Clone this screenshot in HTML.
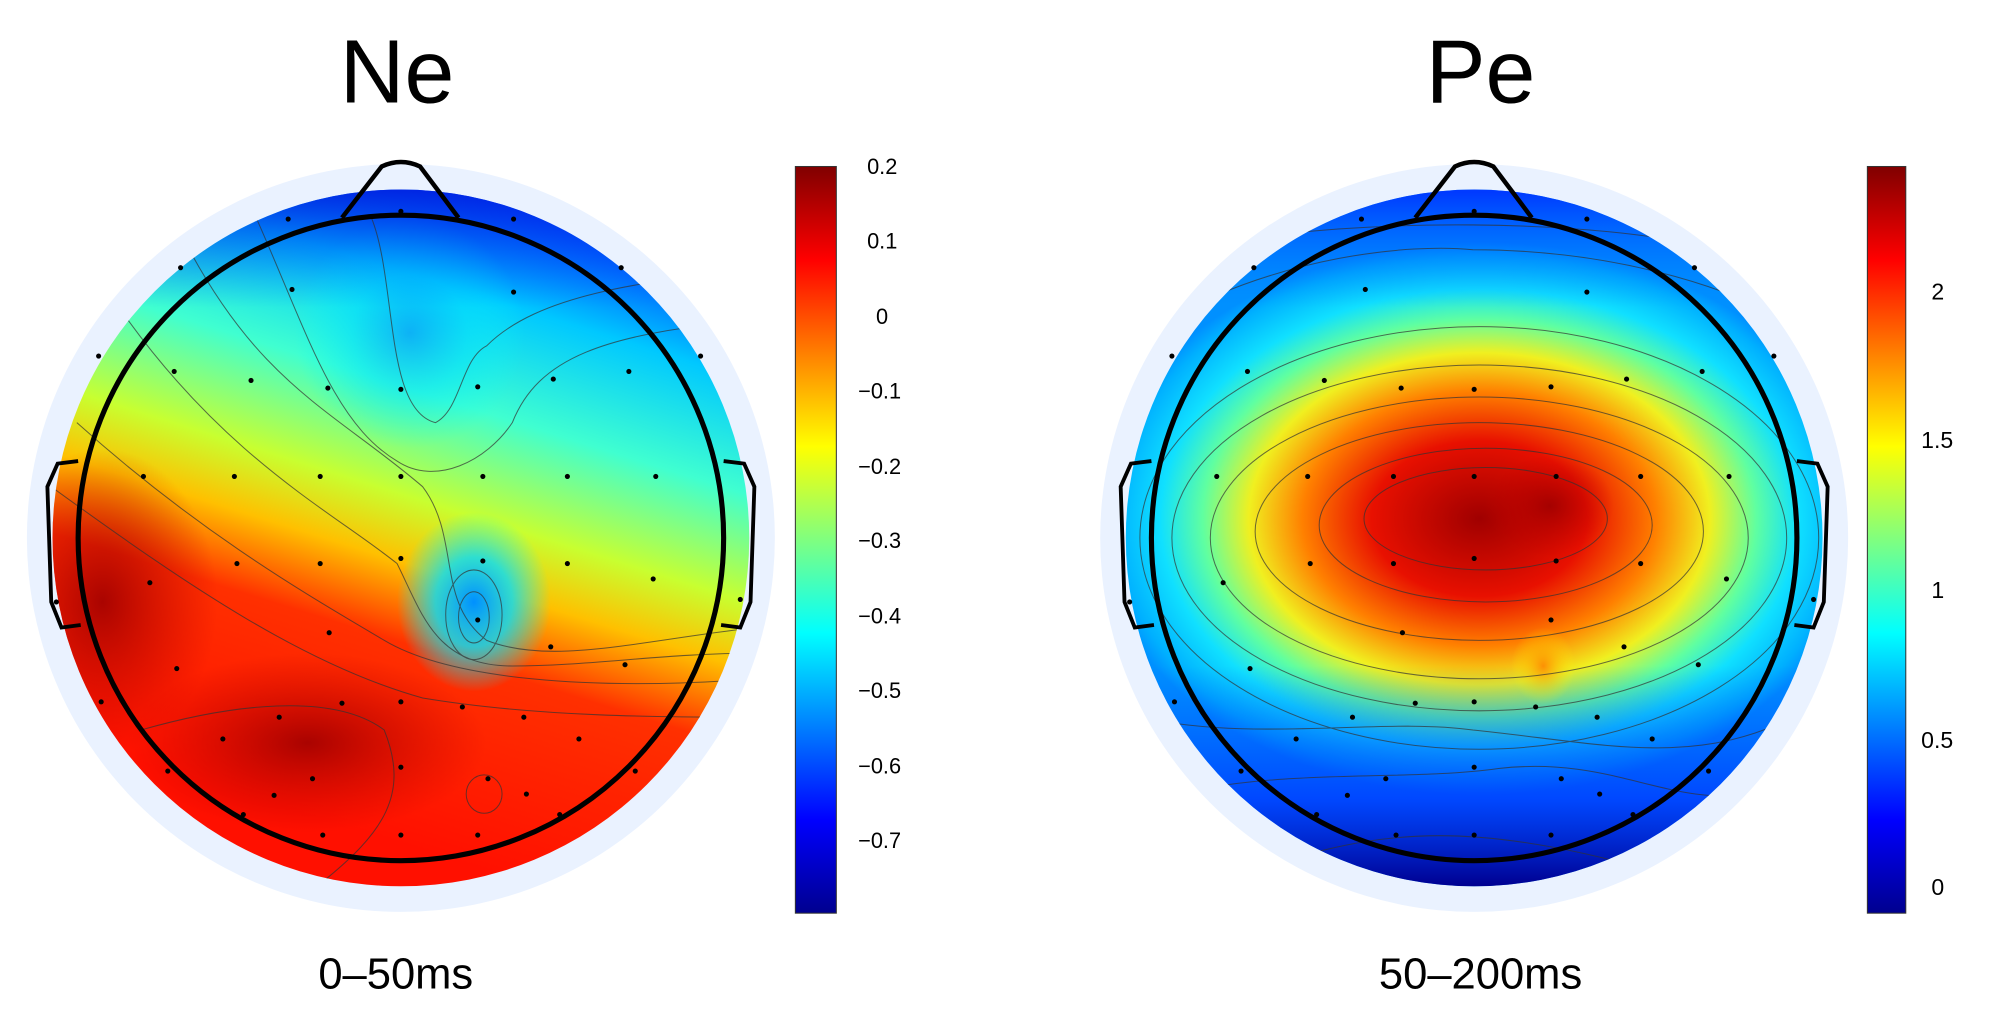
<!DOCTYPE html>
<html><head><meta charset="utf-8"><style>
html,body{margin:0;padding:0;background:#fff;}
svg{display:block;}
text{font-family:"Liberation Sans",sans-serif;}
</style></head><body>
<svg width="1998" height="1031" viewBox="0 0 1560 805" preserveAspectRatio="none" xmlns="http://www.w3.org/2000/svg">
<defs>
<linearGradient id="jetv" x1="0" y1="1" x2="0" y2="0">
<stop offset="0" stop-color="#00008f"/><stop offset="0.125" stop-color="#0000ff"/><stop offset="0.375" stop-color="#00ffff"/><stop offset="0.625" stop-color="#ffff00"/><stop offset="0.875" stop-color="#ff0000"/><stop offset="1" stop-color="#800000"/>
</linearGradient>
<linearGradient id="lg" gradientUnits="userSpaceOnUse" x1="400" y1="160" x2="250" y2="640">
<stop offset="0" stop-color="#0040ff"/><stop offset="0.15" stop-color="#00c8ff"/><stop offset="0.32" stop-color="#40ffd0"/><stop offset="0.48" stop-color="#c8ff30"/><stop offset="0.58" stop-color="#ffc000"/><stop offset="0.7" stop-color="#ff3000"/><stop offset="1" stop-color="#ff1000"/>
</linearGradient>
<linearGradient id="ltop" gradientUnits="userSpaceOnUse" x1="0" y1="148" x2="0" y2="240">
<stop offset="0" stop-color="#0020e0" stop-opacity="0.9"/><stop offset="1" stop-color="#0060ff" stop-opacity="0"/>
</linearGradient>
<radialGradient id="b1" cx="0.5" cy="0.5" r="0.5"><stop offset="0" stop-color="#a00000" stop-opacity="0.9"/><stop offset="1" stop-color="#c00000" stop-opacity="0"/></radialGradient>
<radialGradient id="b2" cx="0.5" cy="0.5" r="0.5"><stop offset="0" stop-color="#0090ff"/><stop offset="0.5" stop-color="#00e0ff" stop-opacity="0.8"/><stop offset="1" stop-color="#00ffff" stop-opacity="0"/></radialGradient>
<radialGradient id="b3" cx="0.5" cy="0.5" r="0.5"><stop offset="0" stop-color="#ff8000" stop-opacity="0.8"/><stop offset="1" stop-color="#ffff00" stop-opacity="0"/></radialGradient>
<radialGradient id="rg" gradientUnits="userSpaceOnUse" cx="1155" cy="405" r="300" gradientTransform="translate(1155 405) scale(1 0.72) translate(-1155 -405)">
<stop offset="0" stop-color="#a00000"/><stop offset="0.28" stop-color="#e81000"/><stop offset="0.46" stop-color="#ff8000"/><stop offset="0.6" stop-color="#f0f020"/><stop offset="0.72" stop-color="#60ffa0"/><stop offset="0.83" stop-color="#10e0ff"/><stop offset="0.95" stop-color="#00b0ff"/><stop offset="1" stop-color="#0090ff"/>
</radialGradient>
<linearGradient id="rbot" gradientUnits="userSpaceOnUse" x1="0" y1="520" x2="0" y2="692">
<stop offset="0" stop-color="#0040ff" stop-opacity="0"/><stop offset="0.6" stop-color="#0030ff" stop-opacity="0.75"/><stop offset="1" stop-color="#000090" stop-opacity="1"/>
</linearGradient>
<linearGradient id="rtop" gradientUnits="userSpaceOnUse" x1="0" y1="150" x2="0" y2="240">
<stop offset="0" stop-color="#0030ff" stop-opacity="0.9"/><stop offset="1" stop-color="#0080ff" stop-opacity="0"/>
</linearGradient>
<clipPath id="cl"><circle cx="313" cy="420" r="272"/></clipPath>
<clipPath id="cr"><circle cx="1151" cy="420" r="272"/></clipPath>
</defs>

<!-- Left -->
<text x="310" y="80" font-size="70" text-anchor="middle">Ne</text>
<circle cx="313" cy="420" r="292" fill="#eaf2ff"/>
<g clip-path="url(#cl)">
<rect x="40" y="148" width="546" height="546" fill="url(#lg)"/>
<ellipse cx="80" cy="470" rx="90" ry="120" fill="url(#b1)"/>
<ellipse cx="240" cy="580" rx="140" ry="70" fill="url(#b1)"/>
<ellipse cx="370" cy="470" rx="60" ry="70" fill="url(#b2)"/>
<ellipse cx="320" cy="260" rx="90" ry="90" fill="url(#b2)" opacity="0.6"/>
<rect x="40" y="148" width="546" height="100" fill="url(#ltop)"/>
<g fill="none" stroke="#333" stroke-width="0.8" opacity="0.7">
<path d="M140 180 C200 300 260 320 330 380 C360 420 340 470 380 500 C430 520 500 500 590 490"/>
<path d="M100 250 C180 360 260 400 310 440 C330 480 340 520 400 520 C460 520 520 510 590 510"/>
<path d="M60 330 C160 420 250 470 300 500 C350 530 460 540 590 530"/>
<path d="M40 380 C150 460 240 520 330 545 C420 560 520 560 590 560"/>
<path d="M200 170 C240 260 260 330 310 360 C340 380 380 360 400 330 C420 280 470 260 590 250"/>
<path d="M290 170 C310 220 300 320 340 330 C360 320 360 280 380 270 C420 230 500 220 590 210"/>
<ellipse cx="370" cy="480" rx="22" ry="35"/><ellipse cx="370" cy="482" rx="12" ry="20"/>
<ellipse cx="378" cy="620" rx="14" ry="15"/>
<path d="M110 570 C180 550 260 540 300 570 C320 620 300 650 250 690"/>
</g>
</g>
<circle cx="313" cy="420" r="252" fill="none" stroke="#000" stroke-width="4"/>
<path d="M267 170 L298 130 Q313 123 328 130 L358 170" fill="none" stroke="#000" stroke-width="3.5"/>
<path d="M61 360 L45 362 L37 380 L40 470 L48 490 L63 488" fill="none" stroke="#000" stroke-width="3"/>
<path d="M565 360 L581 362 L589 380 L586 470 L578 490 L563 488" fill="none" stroke="#000" stroke-width="3"/>
<g fill="#000">
<circle cx="313" cy="165" r="2"/><circle cx="225" cy="171" r="2"/><circle cx="401" cy="171" r="2"/><circle cx="141" cy="209" r="2"/><circle cx="485" cy="209" r="2"/><circle cx="228" cy="226" r="2"/><circle cx="401" cy="228" r="2"/><circle cx="77" cy="278" r="2"/><circle cx="547" cy="278" r="2"/><circle cx="136" cy="290" r="2"/><circle cx="196" cy="297" r="2"/><circle cx="256" cy="303" r="2"/><circle cx="313" cy="304" r="2"/><circle cx="373" cy="302" r="2"/><circle cx="432" cy="296" r="2"/><circle cx="491" cy="290" r="2"/><circle cx="112" cy="372" r="2"/><circle cx="183" cy="372" r="2"/><circle cx="250" cy="372" r="2"/><circle cx="313" cy="372" r="2"/><circle cx="377" cy="372" r="2"/><circle cx="443" cy="372" r="2"/><circle cx="512" cy="372" r="2"/><circle cx="185" cy="440" r="2"/><circle cx="250" cy="440" r="2"/><circle cx="313" cy="436" r="2"/><circle cx="377" cy="438" r="2"/><circle cx="443" cy="440" r="2"/><circle cx="510" cy="452" r="2"/><circle cx="117" cy="455" r="2"/><circle cx="44" cy="470" r="2"/><circle cx="578" cy="468" r="2"/><circle cx="373" cy="484" r="2"/><circle cx="257" cy="494" r="2"/><circle cx="430" cy="505" r="2"/><circle cx="138" cy="522" r="2"/><circle cx="488" cy="519" r="2"/><circle cx="79" cy="548" r="2"/><circle cx="313" cy="548" r="2"/><circle cx="267" cy="549" r="2"/><circle cx="361" cy="552" r="2"/><circle cx="409" cy="560" r="2"/><circle cx="218" cy="560" r="2"/><circle cx="174" cy="577" r="2"/><circle cx="452" cy="577" r="2"/><circle cx="313" cy="599" r="2"/><circle cx="131" cy="602" r="2"/><circle cx="496" cy="602" r="2"/><circle cx="381" cy="608" r="2"/><circle cx="244" cy="608" r="2"/><circle cx="214" cy="621" r="2"/><circle cx="411" cy="620" r="2"/><circle cx="190" cy="636" r="2"/><circle cx="437" cy="636" r="2"/><circle cx="252" cy="652" r="2"/><circle cx="313" cy="652" r="2"/><circle cx="373" cy="652" r="2"/>
</g>
<rect x="621" y="130" width="32" height="583" fill="url(#jetv)" stroke="#333" stroke-width="0.8"/>
<g font-size="17" fill="#000">
<text x="677" y="136">0.2</text><text x="677" y="194">0.1</text><text x="684" y="253">0</text><text x="670" y="311">−0.1</text><text x="670" y="370">−0.2</text><text x="670" y="428">−0.3</text><text x="670" y="487">−0.4</text><text x="670" y="545">−0.5</text><text x="670" y="604">−0.6</text><text x="670" y="662">−0.7</text>
</g>
<text x="309" y="772" font-size="34" text-anchor="middle">0–50ms</text>

<!-- Right -->
<text x="1156" y="80" font-size="70" text-anchor="middle">Pe</text>
<circle cx="1151" cy="420" r="292" fill="#eaf2ff"/>
<g clip-path="url(#cr)">
<rect x="870" y="148" width="560" height="546" fill="url(#rg)"/>
<ellipse cx="1210" cy="395" rx="50" ry="40" fill="url(#b1)"/>
<rect x="870" y="148" width="560" height="546" fill="url(#rtop)"/>
<rect x="870" y="500" width="560" height="200" fill="url(#rbot)"/>
<ellipse cx="1205" cy="520" rx="25" ry="30" fill="url(#b3)"/>
<g fill="none" stroke="#333" stroke-width="0.8" opacity="0.7">
<ellipse cx="1160" cy="405" rx="95" ry="40"/>
<ellipse cx="1160" cy="410" rx="130" ry="60"/>
<ellipse cx="1155" cy="415" rx="175" ry="85"/>
<ellipse cx="1155" cy="420" rx="210" ry="110"/>
<ellipse cx="1155" cy="420" rx="240" ry="135"/>
<ellipse cx="1155" cy="420" rx="265" ry="165"/>
<path d="M910 250 C1000 200 1100 190 1150 195 C1250 195 1350 220 1410 260"/>
<path d="M960 190 C1050 170 1250 170 1340 195"/>
<path d="M890 560 C980 580 1080 560 1150 570 C1250 580 1320 600 1400 560"/>
<path d="M920 620 C1000 600 1100 610 1170 600 C1260 590 1300 630 1370 620"/>
<path d="M1010 670 C1080 650 1150 640 1290 680"/>
</g>
</g>
<circle cx="1151" cy="420" r="252" fill="none" stroke="#000" stroke-width="4"/>
<path d="M1105 170 L1136 130 Q1151 123 1166 130 L1196 170" fill="none" stroke="#000" stroke-width="3.5"/>
<path d="M899 360 L883 362 L875 380 L878 470 L886 490 L901 488" fill="none" stroke="#000" stroke-width="3"/>
<path d="M1403 360 L1419 362 L1427 380 L1424 470 L1416 490 L1401 488" fill="none" stroke="#000" stroke-width="3"/>
<g fill="#000">
<circle cx="1151" cy="165" r="2"/><circle cx="1063" cy="171" r="2"/><circle cx="1239" cy="171" r="2"/><circle cx="979" cy="209" r="2"/><circle cx="1323" cy="209" r="2"/><circle cx="1066" cy="226" r="2"/><circle cx="1239" cy="228" r="2"/><circle cx="915" cy="278" r="2"/><circle cx="1385" cy="278" r="2"/><circle cx="974" cy="290" r="2"/><circle cx="1034" cy="297" r="2"/><circle cx="1094" cy="303" r="2"/><circle cx="1151" cy="304" r="2"/><circle cx="1211" cy="302" r="2"/><circle cx="1270" cy="296" r="2"/><circle cx="1329" cy="290" r="2"/><circle cx="950" cy="372" r="2"/><circle cx="1021" cy="372" r="2"/><circle cx="1088" cy="372" r="2"/><circle cx="1151" cy="372" r="2"/><circle cx="1215" cy="372" r="2"/><circle cx="1281" cy="372" r="2"/><circle cx="1350" cy="372" r="2"/><circle cx="1023" cy="440" r="2"/><circle cx="1088" cy="440" r="2"/><circle cx="1151" cy="436" r="2"/><circle cx="1215" cy="438" r="2"/><circle cx="1281" cy="440" r="2"/><circle cx="1348" cy="452" r="2"/><circle cx="955" cy="455" r="2"/><circle cx="882" cy="470" r="2"/><circle cx="1416" cy="468" r="2"/><circle cx="1211" cy="484" r="2"/><circle cx="1095" cy="494" r="2"/><circle cx="1268" cy="505" r="2"/><circle cx="976" cy="522" r="2"/><circle cx="1326" cy="519" r="2"/><circle cx="917" cy="548" r="2"/><circle cx="1151" cy="548" r="2"/><circle cx="1105" cy="549" r="2"/><circle cx="1199" cy="552" r="2"/><circle cx="1247" cy="560" r="2"/><circle cx="1056" cy="560" r="2"/><circle cx="1012" cy="577" r="2"/><circle cx="1290" cy="577" r="2"/><circle cx="1151" cy="599" r="2"/><circle cx="969" cy="602" r="2"/><circle cx="1334" cy="602" r="2"/><circle cx="1219" cy="608" r="2"/><circle cx="1082" cy="608" r="2"/><circle cx="1052" cy="621" r="2"/><circle cx="1249" cy="620" r="2"/><circle cx="1028" cy="636" r="2"/><circle cx="1275" cy="636" r="2"/><circle cx="1090" cy="652" r="2"/><circle cx="1151" cy="652" r="2"/><circle cx="1211" cy="652" r="2"/>
</g>
<rect x="1458" y="130" width="30" height="583" fill="url(#jetv)" stroke="#333" stroke-width="0.8"/>
<g font-size="18" fill="#000">
<text x="1508" y="234">2</text><text x="1500" y="350">1.5</text><text x="1508" y="467">1</text><text x="1500" y="584">0.5</text><text x="1508" y="699">0</text>
</g>
<text x="1156" y="772" font-size="34" text-anchor="middle">50–200ms</text>
</svg>
</body></html>
